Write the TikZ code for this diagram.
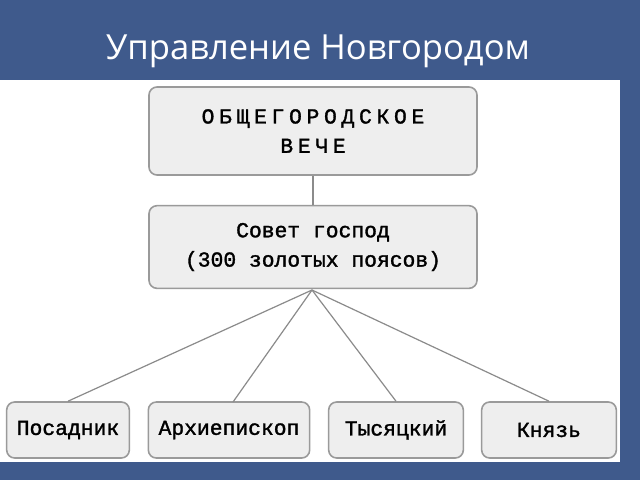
\documentclass[tikz,border=0pt]{standalone}
\usepackage{fontspec}
\setmainfont{Open Sans}
\newfontfamily\boxfont{Liberation Mono}[FakeBold=1.5]
\definecolor{bg}{HTML}{3F5A8C}
\definecolor{boxfill}{HTML}{EEEEEE}
\definecolor{boxline}{HTML}{9A9A9A}
\tikzset{x=0.75pt,y=-0.75pt,
  box/.style={draw=boxline,line width=1.2pt,fill=boxfill,rounded corners=6pt,inner sep=0pt,font=\boxfont\fontsize{16}{22}\selectfont,align=center},
  link/.style={draw=boxline!90!black,line width=0.9pt}}
\begin{document}
\begin{tikzpicture}
\fill[bg] (0,0) rectangle (640,480);
\useasboundingbox (0,0) rectangle (640,480);
\fill[white] (0,80) rectangle (620,462);
\node[text=white] (title) at (318,51) {\resizebox{318pt}{!}{Управление Новгородом}};
\node[box,minimum width=246pt,minimum height=66pt] (veche) at (313,131)
  {\addfontfeature{LetterSpace=22}ОБЩЕГОРОДСКОЕ\\\addfontfeature{LetterSpace=22}ВЕЧЕ};
\node[box,minimum width=246pt,minimum height=62pt] (sovet) at (313,247)
  {Совет господ\\(300 золотых поясов)};
\node[box,minimum width=92pt,minimum height=42pt] (p) at (68,430) {Посадник};
\node[box,minimum width=121pt,minimum height=42pt] (a) at (229,430) {Архиепископ};
\node[box,minimum width=101pt,minimum height=42pt] (t) at (396,430) {Тысяцкий};
\node[box,minimum width=101pt,minimum height=42pt] (k) at (549,430) {Князь};
\coordinate (o) at (312,290);
\draw[link] (veche.south) -- (sovet.north);
\draw[link] (o) -- (p.north);
\draw[link] (o) -- (233,402);
\draw[link] (o) -- (t.north);
\draw[link] (o) -- (k.north);
\end{tikzpicture}
\end{document}
